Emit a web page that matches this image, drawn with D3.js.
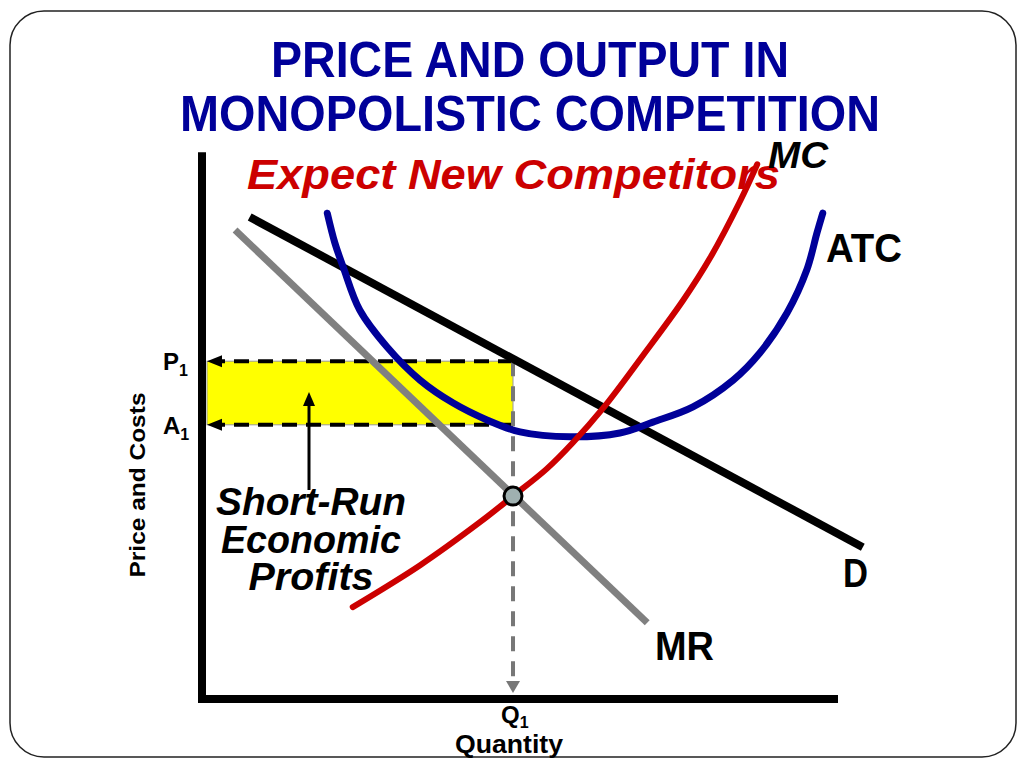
<!DOCTYPE html>
<html>
<head>
<meta charset="utf-8">
<script src="https://cdn.jsdelivr.net/npm/d3@7/dist/d3.min.js"></script>
<style>
  html, body { margin: 0; padding: 0; background: #fff; }
  svg { display: block; }
  text { font-family: "Liberation Sans", Arial, Helvetica, sans-serif; }
</style>
</head>
<body>
<svg id="chart" width="1024" height="768"></svg>
<script>
// ---------- data (quantity / price units) ----------
const demandQ   = [0.75, 10.39];
const demandP   = [8.86, 2.79];
const mrQ       = [0.52, 7.00];
const mrP       = [8.62, 1.40];
const mcQ       = [2.37, 3.43, 4.37, 4.89, 5.42, 5.83, 6.31, 6.93, 7.56, 7.99, 8.46, 8.73];
const mcP       = [1.69, 2.46, 3.25, 3.73, 4.23, 4.71, 5.35, 6.31, 7.32, 8.11, 9.15, 9.83];
const atcQ      = [1.97, 2.09, 2.22, 2.48, 2.91, 3.43, 3.95, 4.48, 5.00, 5.79, 6.57, 7.09, 7.72, 8.35, 8.77, 9.20, 9.51, 9.67, 9.76];
const atcP      = [8.93, 8.38, 7.94, 7.15, 6.47, 5.86, 5.44, 5.13, 4.91, 4.82, 4.89, 5.09, 5.37, 5.86, 6.36, 7.10, 7.89, 8.57, 8.93];
const priceTickLabels = ["P", "A"];
const priceTickValues = [6.21, 5.04];   // P1, A1
const quantityTickLabel = "Q";
const quantityTickValue = 4.89;         // Q1
const mcEqualsMrPrice = 3.73;

// ---------- scales ----------
const svg = d3.select("#chart");
const x = d3.scaleLinear().domain([0, 10]).range([202, 838]);
const y = d3.scaleLinear().domain([0, 10]).range([699, 155]);

// slide frame
svg.append("rect")
  .attr("x", 10).attr("y", 11).attr("width", 1006).attr("height", 746)
  .attr("rx", 34).attr("ry", 34)
  .attr("fill", "none").attr("stroke", "#222").attr("stroke-width", 1.5);

// title
const title = [
  { t: "PRICE AND OUTPUT IN", y: 77, len: 518 },
  { t: "MONOPOLISTIC COMPETITION", y: 131, len: 700 }
];
svg.selectAll("text.title").data(title).join("text")
  .attr("class", "title")
  .attr("x", 530).attr("y", d => d.y)
  .attr("text-anchor", "middle")
  .attr("font-size", 50).attr("font-weight", "bold")
  .attr("fill", "#000099")
  .attr("textLength", d => d.len).attr("lengthAdjust", "spacingAndGlyphs")
  .text(d => d.t);

// subtitle
svg.append("text")
  .attr("x", 247).attr("y", 189)
  .attr("font-size", 42).attr("font-weight", "bold").attr("font-style", "italic")
  .attr("fill", "#CC0000")
  .attr("textLength", 533).attr("lengthAdjust", "spacingAndGlyphs")
  .text("Expect New Competitors");

// profit rectangle
const q1 = quantityTickValue;
svg.append("rect")
  .attr("x", x(0) + 5).attr("y", y(priceTickValues[0]))
  .attr("width", x(q1) - x(0) - 5)
  .attr("height", y(priceTickValues[1]) - y(priceTickValues[0]))
  .attr("fill", "#FFFF00").attr("stroke", "#999").attr("stroke-width", 1);

// horizontal dashed lines with arrows (P1, A1)
priceTickValues.forEach(v => {
  svg.append("line")
    .attr("x1", x(q1)).attr("x2", x(0) + 18)
    .attr("y1", y(v)).attr("y2", y(v))
    .attr("stroke", "#000").attr("stroke-width", 4)
    .attr("stroke-dasharray", "15,9");
  svg.append("path")
    .attr("d", `M${x(0) + 5},${y(v)} L${x(0) + 20},${y(v) - 6} L${x(0) + 20},${y(v) + 6} Z`)
    .attr("fill", "#000");
});

// vertical dashed line to Q1
svg.append("line")
  .attr("x1", x(q1)).attr("x2", x(q1))
  .attr("y1", y(priceTickValues[0])).attr("y2", y(0) - 18)
  .attr("stroke", "#777").attr("stroke-width", 4)
  .attr("stroke-dasharray", "15,10");
svg.append("path")
  .attr("d", `M${x(q1)},${y(0) - 6} L${x(q1) - 7},${y(0) - 18} L${x(q1) + 7},${y(0) - 18} Z`)
  .attr("fill", "#777");

// axes
svg.append("line")
  .attr("x1", x(0)).attr("x2", x(0)).attr("y1", y(10.05)).attr("y2", y(0) + 4)
  .attr("stroke", "#000").attr("stroke-width", 8);
svg.append("line")
  .attr("x1", x(0) - 4).attr("x2", x(10)).attr("y1", y(0)).attr("y2", y(0))
  .attr("stroke", "#000").attr("stroke-width", 8);

// curves
const line = d3.line().x(d => x(d[0])).y(d => y(d[1]));
const curve = d3.line().x(d => x(d[0])).y(d => y(d[1])).curve(d3.curveCatmullRom.alpha(0.5));

svg.append("path").datum(d3.zip(demandQ, demandP)).attr("d", line)
  .attr("fill", "none").attr("stroke", "#000").attr("stroke-width", 8);
svg.append("path").datum(d3.zip(mrQ, mrP)).attr("d", line)
  .attr("fill", "none").attr("stroke", "#808080").attr("stroke-width", 7);
svg.append("path").datum(d3.zip(atcQ, atcP)).attr("d", curve)
  .attr("fill", "none").attr("stroke", "#000099").attr("stroke-width", 7)
  .attr("stroke-linecap", "round");
svg.append("path").datum(d3.zip(mcQ, mcP)).attr("d", curve)
  .attr("fill", "none").attr("stroke", "#CC0000").attr("stroke-width", 6)
  .attr("stroke-linecap", "round");

// MC = MR point
svg.append("circle")
  .attr("cx", x(q1)).attr("cy", y(mcEqualsMrPrice)).attr("r", 9)
  .attr("fill", "#9fb0b0").attr("stroke", "#000").attr("stroke-width", 3);

// profit arrow
svg.append("line")
  .attr("x1", 309).attr("x2", 309).attr("y1", 490).attr("y2", 402)
  .attr("stroke", "#000").attr("stroke-width", 3);
svg.append("path")
  .attr("d", "M309,392 L303,406 L315,406 Z").attr("fill", "#000");

// profit label
const profitLines = [
  { t: "Short-Run", y: 515, len: 190 },
  { t: "Economic", y: 553, len: 180 },
  { t: "Profits", y: 590, len: 125 }
];
svg.selectAll("text.profit").data(profitLines).join("text")
  .attr("class", "profit")
  .attr("x", 311).attr("y", d => d.y)
  .attr("text-anchor", "middle")
  .attr("font-size", 38).attr("font-weight", "bold").attr("font-style", "italic")
  .attr("fill", "#000")
  .attr("textLength", d => d.len).attr("lengthAdjust", "spacingAndGlyphs")
  .text(d => d.t);

// price tick labels with subscripts
priceTickLabels.forEach((lab, i) => {
  const t = svg.append("text")
    .attr("x", 163).attr("y", y(priceTickValues[i]) + 9)
    .attr("font-size", 24).attr("font-weight", "bold").attr("fill", "#000");
  t.append("tspan").text(lab);
  t.append("tspan").attr("dy", 6).attr("font-size", 16).text("1");
});

// quantity tick label
const qt = svg.append("text")
  .attr("x", x(q1) - 12).attr("y", 723)
  .attr("font-size", 24).attr("font-weight", "bold").attr("fill", "#000");
qt.append("tspan").text(quantityTickLabel);
qt.append("tspan").attr("dy", 5).attr("font-size", 16).text("1");

// axis titles
svg.append("text")
  .attr("x", 509).attr("y", 753).attr("text-anchor", "middle")
  .attr("font-size", 25).attr("font-weight", "bold").attr("fill", "#000")
  .attr("textLength", 108).attr("lengthAdjust", "spacingAndGlyphs")
  .text("Quantity");
svg.append("text")
  .attr("transform", "translate(145,485) rotate(-90)")
  .attr("text-anchor", "middle")
  .attr("font-size", 22).attr("font-weight", "bold").attr("fill", "#000")
  .attr("textLength", 185).attr("lengthAdjust", "spacingAndGlyphs")
  .text("Price and Costs");

// curve labels
const curveLabels = [
  { t: "MC", x: 768, y: 168, size: 37, italic: true, len: 60 },
  { t: "ATC", x: 826, y: 262, size: 40, italic: false, len: 76 },
  { t: "D", x: 843, y: 587, size: 40, italic: false, len: 25 },
  { t: "MR", x: 655, y: 660, size: 40, italic: false, len: 59 }
];
svg.selectAll("text.clab").data(curveLabels).join("text")
  .attr("class", "clab")
  .attr("x", d => d.x).attr("y", d => d.y)
  .attr("font-size", d => d.size).attr("font-weight", "bold")
  .attr("font-style", d => d.italic ? "italic" : "normal")
  .attr("fill", "#000")
  .attr("textLength", d => d.len).attr("lengthAdjust", "spacingAndGlyphs")
  .text(d => d.t);
</script>
</body>
</html>
